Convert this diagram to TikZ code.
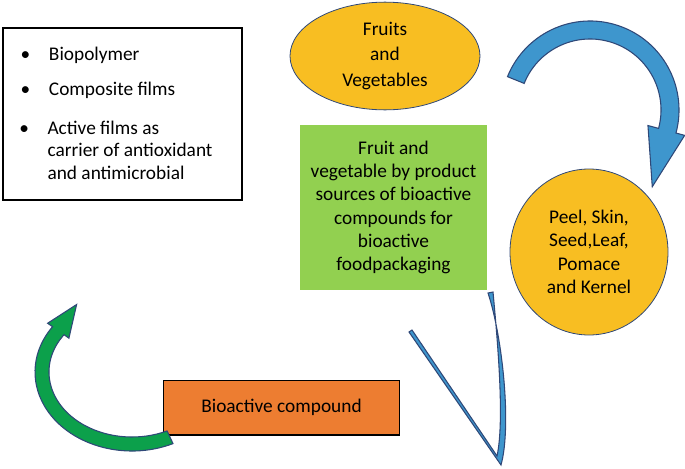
\documentclass[tikz,border=0pt]{standalone}
\usepackage{fontspec}
\setmainfont{Carlito}
\usetikzlibrary{shapes.geometric,calc}
\definecolor{fruitYellow}{RGB}{248,190,34}
\definecolor{edgeBlue}{RGB}{47,72,120}
\definecolor{boxGreen}{RGB}{146,208,80}
\definecolor{boxOrange}{RGB}{237,125,49}
\definecolor{arrowBlue}{RGB}{62,150,205}
\definecolor{arrowGreen}{RGB}{12,160,75}
\tikzset{
  fruit/.style={ellipse, fill=fruitYellow, draw=edgeBlue, line width=0.6pt, align=center, font=\fontsize{14.5}{17.5}\selectfont},
  plainbox/.style={rectangle, align=center, font=\fontsize{14.5}{17.5}\selectfont}
}
\begin{document}
\begin{tikzpicture}[x=0.75pt,y=0.75pt,yscale=-1,xscale=1]
\useasboundingbox (0,0) rectangle (685,468);

%Shapes
\node (uses) [draw=black, line width=1pt, minimum width=179.25pt, minimum height=129pt] at (122.5,114) {};
\node [anchor=west, font=\fontsize{14.5}{17.5}\selectfont, align=left] at (16,55) {•\hspace{14pt}Biopolymer};
\node [anchor=west, font=\fontsize{14.5}{17.5}\selectfont, align=left] at (16,90) {•\hspace{14pt}Composite films};
\node [anchor=north west, font=\fontsize{14.5}{17}\selectfont, align=left, inner sep=0pt] at (19,118) {•\hspace{14pt}\begin{tabular}[t]{@{}l@{}}Active films as\\carrier of antioxidant\\and antimicrobial\end{tabular}};

\node (fruits) [fruit, minimum width=142.5pt, minimum height=72pt] at (385,56) {Fruits\\[1.5pt]and\\[1.5pt]Vegetables};
\node (parts) [fruit, minimum width=118.5pt, minimum height=124.5pt, inner sep=0pt] at (589,252) {Peel, Skin,\\Seed,Leaf,\\Pomace\\and Kernel};
\node (byprod) [plainbox, fill=boxGreen, minimum width=140.25pt, minimum height=123.75pt] at (393.5,207.5) {Fruit and\\vegetable by product\\sources of bioactive\\compounds for\\bioactive\\foodpackaging};
\node (compound) [plainbox, fill=boxOrange, draw=black, line width=1pt, minimum width=177pt, minimum height=41pt] at (281.5,407.5) {Bioactive compound};

%Blue curved arrow
\coordinate (bc) at (590,110);
\fill [arrowBlue, draw=edgeBlue, line width=0.8pt]
  ($(bc)+(-158:89)$) arc[start angle=-158, end angle=15, radius=89]
  -- ($(bc)+(15:98)$) -- ($(bc)+(15:80)+(105:58)$) -- ($(bc)+(15:60)$)
  -- ($(bc)+(15:71)$) arc[start angle=15, end angle=-158, radius=71] -- cycle;

%Green curved arrow
\coordinate (gc) at (132,372);
\fill [arrowGreen, draw=edgeBlue, line width=0.8pt]
  ($(gc)+(65:97 and 79)$) arc[start angle=65, end angle=215, x radius=97, y radius=79]
  -- ($(gc)+(215:103 and 85)$) -- ($(gc)+(215:90 and 72)+(-55:32)$) -- ($(gc)+(215:77 and 59)$)
  -- ($(gc)+(215:83 and 65)$) arc[start angle=215, end angle=65, x radius=83, y radius=65] -- cycle;

%Thin blue wedge
\fill [arrowBlue, draw=edgeBlue, line width=0.8pt]
  (488,293) .. controls (502,335) and (512,425) .. (501,465) -- (409,332) -- (412,330)
  -- (497,456) .. controls (505,420) and (497,335) .. (493,292) -- cycle;

\end{tikzpicture}
\end{document}
